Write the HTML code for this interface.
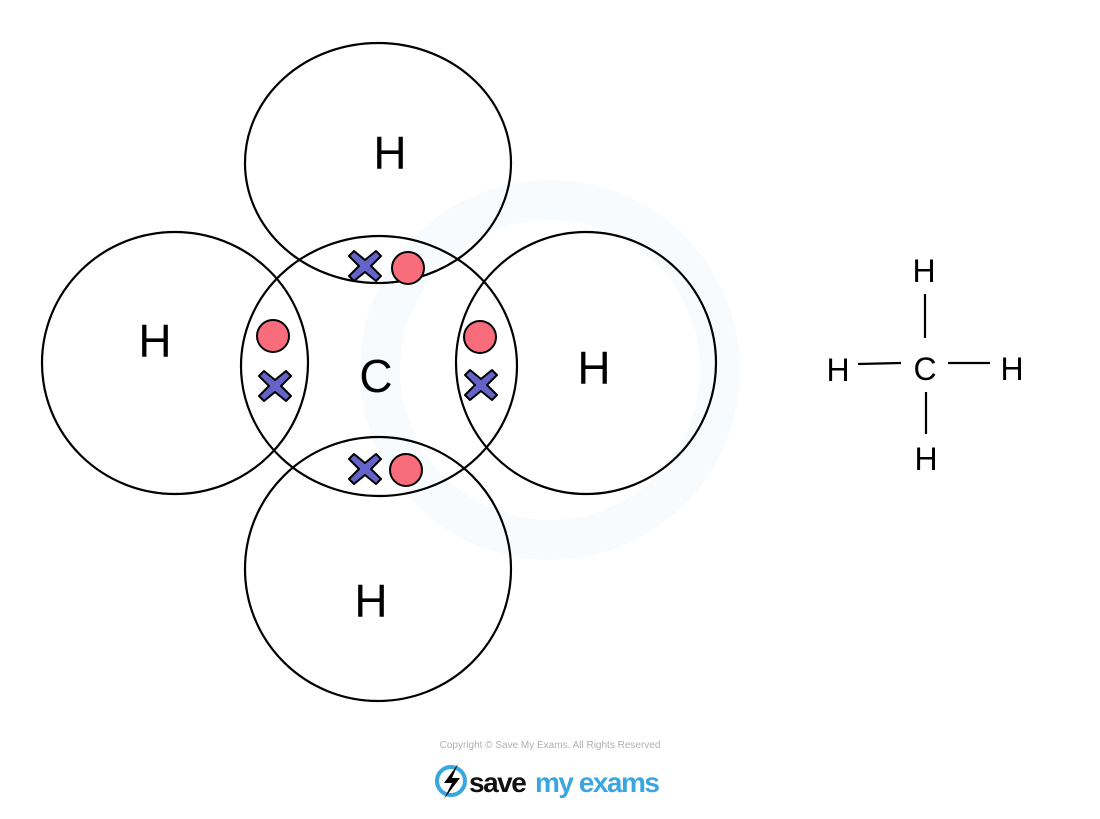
<!DOCTYPE html>
<html><head><meta charset="utf-8"><style>
html,body{margin:0;padding:0;background:#fff;}
svg{display:block;}
text{font-family:"Liberation Sans",sans-serif;}
</style></head><body>
<svg width="1100" height="819" viewBox="0 0 1100 819" xmlns="http://www.w3.org/2000/svg">
<circle cx="550" cy="370" r="170" fill="none" stroke="#f8fbfd" stroke-width="40"/>
<g fill="none" stroke="#000" stroke-width="2.2">
<ellipse cx="378" cy="163" rx="133" ry="120"/>
<ellipse cx="175" cy="363" rx="133" ry="131"/>
<ellipse cx="586" cy="363" rx="130" ry="131"/>
<ellipse cx="378" cy="569" rx="133" ry="132"/>
<ellipse cx="379" cy="366" rx="138" ry="130"/>
</g>
<g fill="#f86c7b" stroke="#000" stroke-width="2">
<circle cx="408" cy="268" r="16"/>
<circle cx="273" cy="336" r="16"/>
<circle cx="480" cy="337" r="16"/>
<circle cx="406" cy="470" r="16"/>
</g>
<defs>
<path id="x" d="M-11,-15 L0,-6 L11,-15 L16,-10 L6,0 L16,10 L11,15 L0,6 L-11,15 L-16,10 L-6,0 L-16,-10 Z" fill="#6464c8" stroke="#000" stroke-width="2" stroke-linejoin="round"/>
</defs>
<use href="#x" x="365" y="266"/>
<use href="#x" x="275" y="386"/>
<use href="#x" x="481" y="385"/>
<use href="#x" x="365" y="469"/>
<g font-size="46" text-anchor="middle" fill="#000">
<text x="390" y="169">H</text>
<text x="155" y="357">H</text>
<text x="594" y="384">H</text>
<text x="371" y="617">H</text>
<text x="376" y="392">C</text>
</g>
<g font-size="32" text-anchor="middle" fill="#000">
<text x="924" y="282">H</text>
<text x="838" y="381">H</text>
<text x="925" y="380">C</text>
<text x="1012" y="380">H</text>
<text x="926" y="470">H</text>
</g>
<g stroke="#000" stroke-width="2.2">
<line x1="925" y1="294" x2="925" y2="338"/>
<line x1="858" y1="364" x2="901" y2="363"/>
<line x1="948" y1="363" x2="990" y2="363"/>
<line x1="926" y1="392" x2="926" y2="434"/>
</g>
<text x="550" y="748" font-size="10" fill="#b0b0b0" text-anchor="middle">Copyright © Save My Exams. All Rights Reserved</text>
<circle cx="451" cy="781" r="14" fill="none" stroke="#3aa6e0" stroke-width="4"/>
<path d="M458,764 L444,783 L452,783 L444,799 L460,778 L452,778 Z" fill="#000"/>
<text x="469" y="792" font-size="28" font-weight="bold" fill="#111" letter-spacing="-1.5">save</text>
<text x="535" y="792" font-size="28" font-weight="bold" fill="#3aa6e0" letter-spacing="-1.5">my exams</text>
</svg>
</body></html>
